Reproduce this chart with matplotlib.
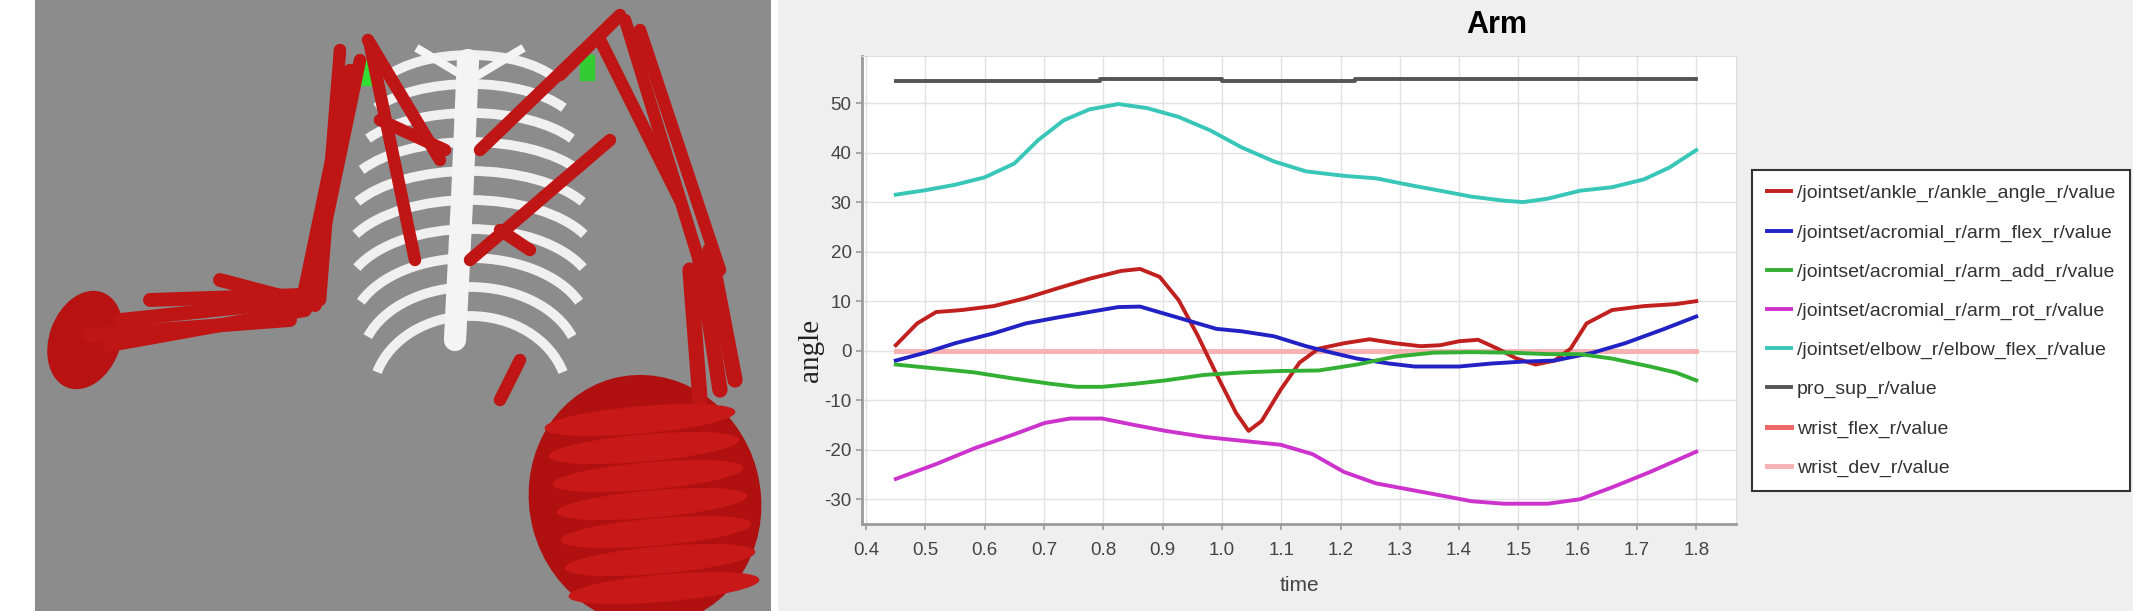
import matplotlib
matplotlib.use("Agg")
import matplotlib.pyplot as plt
import numpy as np
from matplotlib.patches import Rectangle, Ellipse, Arc

plt.rcParams['axes.unicode_minus'] = False

# --- data ---
ankle_t = [0.45, 0.486, 0.518, 0.561, 0.615, 0.669, 0.723, 0.776, 0.83, 0.862, 0.895,
           0.927, 0.959, 0.991, 1.024, 1.045, 1.067, 1.099, 1.131, 1.163, 1.206, 1.249,
           1.292, 1.335, 1.368, 1.4, 1.432, 1.465, 1.497, 1.529, 1.561, 1.588, 1.615,
           1.658, 1.712, 1.765, 1.8]
ankle_v = [1.1, 5.5, 7.8, 8.2, 9.0, 10.6, 12.6, 14.5, 16.1, 16.5, 14.9,
           10.2, 3.1, -4.8, -12.6, -16.2, -14.2, -7.9, -2.4, 0.4, 1.5, 2.3,
           1.5, 0.9, 1.1, 1.9, 2.2, 0.4, -1.6, -2.8, -2.0, 0.4, 5.5,
           8.2, 9.0, 9.4, 10.0]

flex_t = [0.45, 0.5, 0.55, 0.615, 0.669, 0.723, 0.776, 0.825, 0.862, 0.905, 0.948,
          0.991, 1.034, 1.088, 1.142, 1.185, 1.228, 1.282, 1.325, 1.4, 1.454, 1.508,
          1.561, 1.626, 1.68, 1.744, 1.8]
flex_v = [-2.0, -0.4, 1.5, 3.5, 5.5, 6.7, 7.8, 8.8, 8.9, 7.4, 5.9,
          4.4, 3.9, 2.9, 0.9, -0.4, -1.6, -2.6, -3.2, -3.2, -2.6, -2.2,
          -2.0, -0.4, 1.5, 4.3, 6.9]

add_t = [0.45, 0.518, 0.583, 0.647, 0.712, 0.755, 0.798, 0.852, 0.905, 0.97, 1.034,
         1.099, 1.163, 1.228, 1.292, 1.357, 1.421, 1.486, 1.55, 1.604, 1.658, 1.722,
         1.765, 1.8]
add_v = [-2.8, -3.6, -4.4, -5.6, -6.7, -7.3, -7.3, -6.7, -6.0, -4.9, -4.4,
         -4.1, -4.0, -2.8, -1.2, -0.4, -0.3, -0.4, -0.7, -0.7, -1.6, -3.2,
         -4.4, -6.0]

rot_t = [0.45, 0.518, 0.583, 0.647, 0.701, 0.744, 0.798, 0.852, 0.905, 0.97, 1.034,
         1.099, 1.153, 1.206, 1.26, 1.314, 1.368, 1.421, 1.475, 1.55, 1.604, 1.658,
         1.722, 1.8]
rot_v = [-25.9, -22.9, -19.7, -17.0, -14.6, -13.7, -13.7, -15.0, -16.2, -17.4, -18.2,
         -19.0, -20.9, -24.5, -26.8, -28.0, -29.2, -30.4, -30.9, -30.9, -30.0, -27.6,
         -24.5, -20.4]

elbow_t = [0.45, 0.5, 0.55, 0.6, 0.65, 0.69, 0.733, 0.776, 0.825, 0.873, 0.927,
           0.98, 1.034, 1.088, 1.142, 1.206, 1.26, 1.314, 1.368, 1.421, 1.475, 1.508,
           1.55, 1.604, 1.658, 1.712, 1.755, 1.8]
elbow_v = [31.5, 32.4, 33.5, 35.0, 37.8, 42.5, 46.5, 48.7, 49.8, 49.0, 47.2,
           44.5, 41.0, 38.2, 36.2, 35.3, 34.8, 33.5, 32.3, 31.1, 30.3, 30.0,
           30.7, 32.3, 33.0, 34.6, 37.0, 40.5]

prosup_t = [0.45, 0.795, 1.0, 1.225, 1.8]
prosup_v = [54.4, 54.9, 54.4, 54.85, 54.85]

wrist_t = [0.45, 1.8]
wrist_flex_v = [0.0, 0.0]
wrist_dev_v = [0.0, 0.0]

labels = ["/jointset/ankle_r/ankle_angle_r/value",
          "/jointset/acromial_r/arm_flex_r/value",
          "/jointset/acromial_r/arm_add_r/value",
          "/jointset/acromial_r/arm_rot_r/value",
          "/jointset/elbow_r/elbow_flex_r/value",
          "pro_sup_r/value",
          "wrist_flex_r/value",
          "wrist_dev_r/value"]
colors = ["#c0201e", "#2222c4", "#33b033", "#cc33cc", "#38c6b8", "#555555",
          "#f06a6a", "#f7b3b3"]

W, H = 2133, 611
fig = plt.figure(figsize=(W / 100, H / 100), dpi=100)
fig.patch.set_facecolor("white")

# right panel background
fig.patches.append(Rectangle((778 / W, 0), 1 - 778 / W, 1, transform=fig.transFigure,
                             facecolor="#efefef", edgecolor="none", zorder=-10))

# --- left panel: rough sketch of the rendered arm model ---
ax_img = fig.add_axes([35 / W, 0, (771 - 35) / W, 1])
ax_img.set_xlim(35, 771)
ax_img.set_ylim(611, 0)
ax_img.set_facecolor("#8c8c8c")
ax_img.set_xticks([])
ax_img.set_yticks([])
for s in ax_img.spines.values():
    s.set_visible(False)

# ribcage
for k in range(10):
    yy = 70 + k * 33
    w = 170 + 90 * np.sin(np.pi * (k + 1) / 11)
    ax_img.add_patch(Arc((470, yy + 30), w, 90 + k * 8, theta1=195, theta2=345,
                         color="#f0f0f0", lw=7))
ax_img.plot([468, 462, 455], [60, 200, 340], color="#f4f4f4", lw=16, solid_capstyle="round")
ax_img.plot([420, 470, 520], [50, 80, 50], color="#f4f4f4", lw=6)

red = "#c01515"
# muscles (shoulders / chest)
for (x0, y0, x1, y1) in [(368, 40, 440, 160), (370, 45, 415, 260), (360, 60, 310, 300),
                         (380, 120, 445, 150), (620, 15, 560, 75), (615, 20, 480, 150),
                         (610, 140, 470, 260), (600, 40, 680, 200), (625, 20, 705, 280),
                         (640, 30, 720, 270), (350, 70, 300, 310), (340, 50, 320, 300),
                         (500, 400, 520, 360), (500, 230, 530, 250)]:
    ax_img.plot([x0, x1], [y0, y1], color=red, lw=9, solid_capstyle="round")
ax_img.add_patch(Rectangle((360, 60), 18, 25, color="#33dd33", zorder=1))
ax_img.add_patch(Rectangle((580, 55), 14, 25, color="#33cc33", zorder=1))
# left forearm and hand
for (x0, y0, x1, y1) in [(310, 300, 120, 320), (305, 310, 110, 345), (300, 295, 150, 300),
                         (315, 305, 220, 280), (290, 320, 90, 335)]:
    ax_img.plot([x0, x1], [y0, y1], color=red, lw=10, solid_capstyle="round")
ax_img.add_patch(Ellipse((85, 340), 70, 100, angle=20, color="#b81212"))
# right forearm and hand
for (x0, y0, x1, y1) in [(700, 260, 720, 390), (690, 270, 700, 400), (710, 250, 735, 380)]:
    ax_img.plot([x0, x1], [y0, y1], color=red, lw=11, solid_capstyle="round")
ax_img.add_patch(Ellipse((645, 500), 230, 250, angle=-15, color="#b01010"))
for k in range(7):
    ax_img.add_patch(Ellipse((640 + k * 4, 420 + k * 28), 190, 26, angle=-5,
                             color="#c81818", zorder=3))

# --- chart ---
ax = fig.add_axes([862 / W, (611 - 524) / H, (1736 - 862) / W, (524 - 56) / H])
ax.set_facecolor("white")

series = [(ankle_t, ankle_v), (flex_t, flex_v), (add_t, add_v), (rot_t, rot_v),
          (elbow_t, elbow_v)]
handles = []
for (t, v), lab, c in zip(series, labels[:5], colors[:5]):
    h, = ax.plot(t, v, color=c, lw=2.8, label=lab, zorder=4)
    handles.append(h)
h, = ax.plot(prosup_t, prosup_v, color=colors[5], lw=2.8, drawstyle="steps-post",
             label=labels[5], zorder=4)
handles.append(h)
h, = ax.plot(wrist_t, wrist_flex_v, color=colors[6], lw=3.6, label=labels[6], zorder=3)
handles.append(h)
h, = ax.plot(wrist_t, wrist_dev_v, color=colors[7], lw=3.6, label=labels[7], zorder=3)
handles.append(h)

ax.set_xlim(0.393, 1.867)
ax.set_ylim(-35, 59.5)
ax.set_xticks(np.arange(0.4, 1.81, 0.1))
ax.set_xticklabels([f"{x:.1f}" for x in np.arange(0.4, 1.81, 0.1)])
ax.set_yticks(np.arange(-30, 51, 10))
ax.grid(True, color="#e2e2e2", lw=1.0)
ax.set_axisbelow(True)
ax.tick_params(colors="#9a9a9a", labelcolor="#444444", labelsize=13.5, length=4,
               width=1.2)
ax.tick_params(axis="x", pad=9)
for lab in ax.get_xticklabels() + ax.get_yticklabels():
    lab.set_family("Liberation Sans")
for side in ["top", "right"]:
    ax.spines[side].set_color("#dddddd")
for side in ["left", "bottom"]:
    ax.spines[side].set_color("#9a9a9a")
    ax.spines[side].set_linewidth(2)

ax.set_xlabel("time", fontsize=15, family="Liberation Sans", color="#444444", labelpad=12)
fig.text(811 / W, 1 - 350 / H, "angle", rotation=90, ha="center", va="center",
         fontsize=21, family="Liberation Serif", color="#222222")
fig.text(1497 / W, 1 - 25 / H, "Arm", ha="center", va="center", fontsize=22,
         fontweight="bold", family="Liberation Sans")

leg = fig.legend(handles=handles, loc="upper left", bbox_to_anchor=(1752 / W, 1 - 170 / H),
                 borderaxespad=0, prop={"family": "Liberation Sans", "size": 14},
                 handlelength=1.25, handletextpad=0.3, labelspacing=1.1, fancybox=False,
                 framealpha=1, edgecolor="#333333", borderpad=0.75)
leg.get_frame().set_linewidth(1.5)
for t in leg.get_texts():
    t.set_color("#333333")

fig.savefig("out.png", dpi=100)
